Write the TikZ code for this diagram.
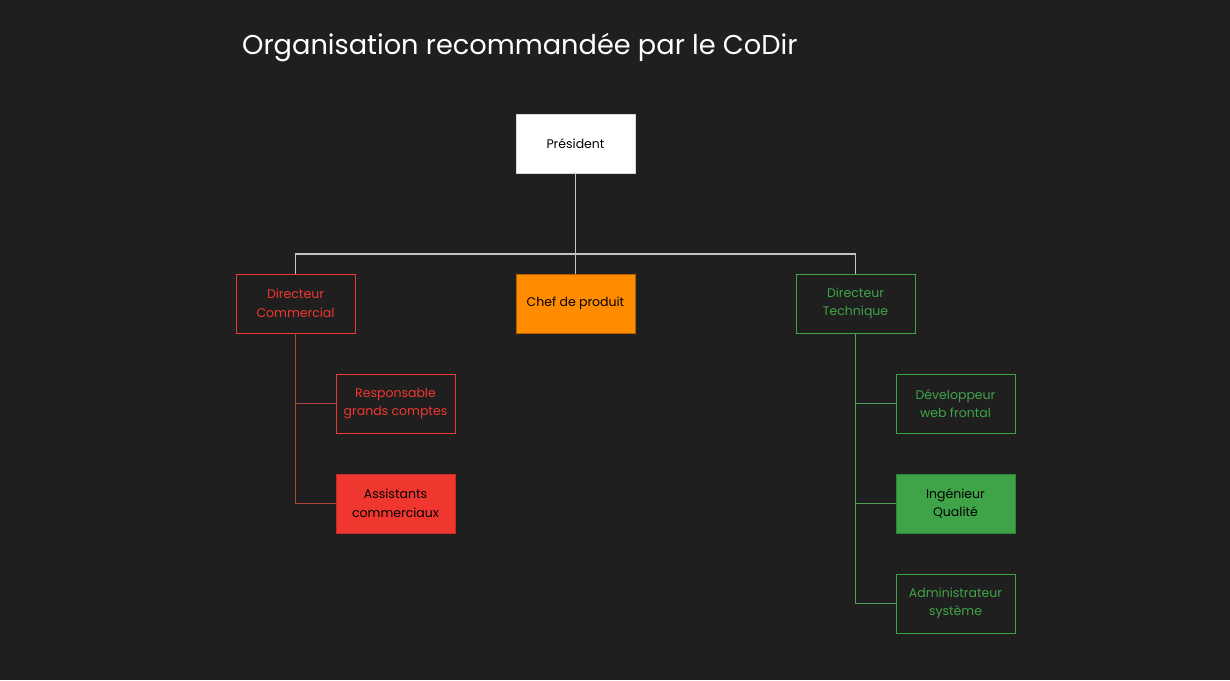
\documentclass[tikz,border=0pt]{standalone}
\usepackage{fontspec}
\setmainfont{Poppins}
\definecolor{bg}{HTML}{1F1F1F}
\definecolor{cred}{HTML}{F0372F}
\definecolor{cgreen}{HTML}{3FA447}
\definecolor{corange}{HTML}{FF8C00}
\definecolor{lgray}{HTML}{C4C4C4}
\definecolor{lred}{HTML}{B0443F}
\definecolor{lgreen}{HTML}{4FA055}
\begin{document}
\begin{tikzpicture}[x=1pt,y=-1pt,
  box/.style={rectangle,minimum width=119pt,minimum height=59pt,inner sep=2pt,align=center,font=\fontsize{12.5}{18.5}\selectfont,line width=0.8pt},
  redbox/.style={box,draw=cred,text=cred},
  redfill/.style={box,draw=cred!80!black,fill=cred,text=black},
  greenbox/.style={box,draw=cgreen,text=cgreen},
  greenfill/.style={box,draw=cgreen!80!black,fill=cgreen,text=black},
  link/.style={line width=1.3pt}]
\fill[bg] (0,0) rectangle (1230,680);
\useasboundingbox (0,0) rectangle (1230,680);
\node[anchor=base west,text=white,font=\fontsize{27.2}{32}\selectfont,inner sep=0pt] (title) at (242,54) {Organisation recommandée par le CoDir};
\node[box,draw=lgray!70!white,fill=white,text=black] (pres) at (575.5,143.5) {Président};
\node[redbox] (dc) at (295.5,303.5) {Directeur\\Commercial};
\node[box,draw=corange!70!black,fill=corange,text=black] (cp) at (575.5,303.5) {Chef de produit};
\node[greenbox] (dt) at (855.5,303.5) {Directeur\\Technique};
\node[redbox] (rgc) at (395.5,403.5) {Responsable\\grands comptes};
\node[redfill] (ac) at (395.5,503.5) {Assistants\\commerciaux};
\node[greenbox] (dwf) at (955.5,403.5) {Développeur\\web frontal};
\node[greenfill] (iq) at (955.5,503.5) {Ingénieur\\Qualité};
\node[greenbox] (as) at (955.5,603.5) {Administrateur\\système};
\coordinate (bar) at (575.5,254);
\draw[link,lgray] (pres.south) -- (cp.north);
\draw[link,lgray] (dc.north) |- (bar) -| (dt.north);
\draw[link,lred] (dc.south) |- (rgc.west);
\draw[link,lred] (dc.south) |- (ac.west);
\draw[link,lgreen] (dt.south) |- (dwf.west);
\draw[link,lgreen] (dt.south) |- (iq.west);
\draw[link,lgreen] (dt.south) |- (as.west);
\end{tikzpicture}
\end{document}
